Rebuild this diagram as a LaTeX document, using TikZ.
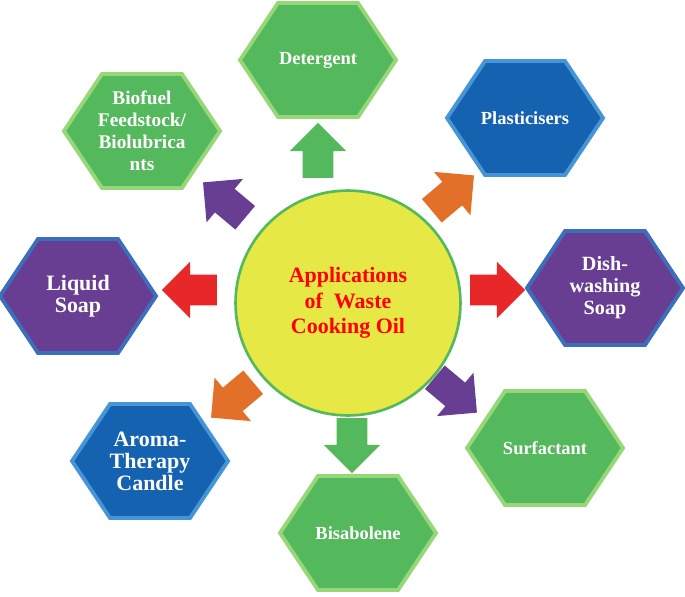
\documentclass[tikz,border=0pt]{standalone}
\usepackage{fontspec}
\setmainfont{Liberation Serif}
\usetikzlibrary{shapes.arrows, positioning}

\definecolor{hgreen}{RGB}{84,184,92}
\definecolor{hgreenb}{RGB}{150,215,120}
\definecolor{hblue}{RGB}{20,98,176}
\definecolor{hblueb}{RGB}{70,150,215}
\definecolor{hpurple}{RGB}{104,62,146}
\definecolor{hpurpleb}{RGB}{60,110,190}
\definecolor{aorange}{RGB}{226,112,40}
\definecolor{ared}{RGB}{232,40,40}
\definecolor{circyellow}{RGB}{230,232,70}

% hexagon around a named text node: name, x, y, fill, border
\newcommand{\hexnode}[6]{%
  \filldraw[fill=#4, draw=#5, line width=2.2pt]
    (#2-78,#3) -- (#2-40,#3-57) -- (#2+40,#3-57) -- (#2+78,#3)
    -- (#2+40,#3+57) -- (#2-40,#3+57) -- cycle;
  \node[label] (#1) at (#2,#3) {#6};
}

\begin{document}
\begin{tikzpicture}[x=0.02cm, y=-0.02cm]
\tikzset{label/.style={text=white, font=\bfseries\fontsize{10.5}{12.5}\selectfont, align=center}}
\tikzset{big/.style={font=\bfseries\fontsize{12.5}{15}\selectfont}}
\tikzset{blk/.style={single arrow, draw=none, minimum height=1.1cm, inner sep=0.3cm, single arrow head extend=0.26cm}}

\useasboundingbox (0,0) rectangle (685,596);

\node[circle, fill=circyellow, draw=hgreen, line width=1.5pt, minimum size=4.5cm,
  text=red, font=\bfseries\fontsize{12.5}{14.5}\selectfont, align=center] (hub) at (348,303)
  {Applications\\of~~Waste\\Cooking Oil};

\hexnode{det}{318}{60}{hgreen}{hgreenb}{Detergent}
\hexnode{plast}{525}{118}{hblue}{hblueb}{Plasticisers}
\hexnode{dish}{605}{288}{hpurple}{hpurpleb}{\fontsize{11.5}{14}\selectfont Dish-\\\fontsize{11.5}{14}\selectfont washing\\\fontsize{11.5}{14}\selectfont Soap}
\hexnode{surf}{545}{448}{hgreen}{hgreenb}{Surfactant}
\hexnode{bisa}{358}{533}{hgreen}{hgreenb}{Bisabolene}
\hexnode{aroma}{150}{461}{hblue}{hblueb}{\fontsize{12.5}{15}\selectfont Aroma-\\\fontsize{12.5}{15}\selectfont Therapy\\\fontsize{12.5}{15}\selectfont Candle}
\hexnode{liq}{78}{296}{hpurple}{hpurpleb}{\fontsize{12.5}{15}\selectfont Liquid\\\fontsize{12.5}{15}\selectfont Soap}
\hexnode{bio}{142}{131}{hgreen}{hgreenb}{\fontsize{11}{13.5}\selectfont Biofuel\\\fontsize{11}{13.5}\selectfont Feedstock/\\\fontsize{11}{13.5}\selectfont Biolubrica\\\fontsize{11}{13.5}\selectfont nts}

\node[blk, fill=hgreen, rotate=90] (a det) at (318,158) {};
\node[blk, fill=aorange, rotate=40] (a plast) at (447,198) {};
\node[blk, fill=ared, rotate=0] (a dish) at (490,290) {};
\node[blk, fill=hpurple, rotate=-40] (a surf) at (450,390) {};
\node[blk, fill=hgreen, rotate=-90] (a bisa) at (352,438) {};
\node[blk, fill=aorange, rotate=-140] (a aroma) at (238,395) {};
\node[blk, fill=ared, rotate=180] (a liq) at (197,290) {};
\node[blk, fill=hpurple, rotate=140] (a bio) at (230,205) {};

\end{tikzpicture}
\end{document}
